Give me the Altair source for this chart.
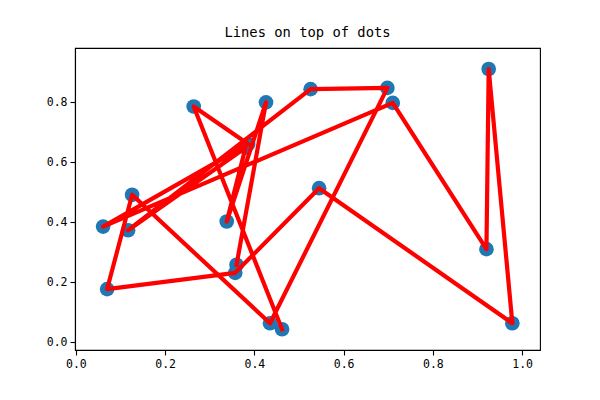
import altair as alt
import pandas as pd

# points in the order the red line visits them
xs = [0.462, 0.264, 0.386, 0.061, 0.710, 0.920, 0.925, 0.978, 0.545, 0.357,
      0.070, 0.126, 0.435, 0.698, 0.526, 0.117, 0.380, 0.338, 0.426, 0.360]
ys = [0.043, 0.785, 0.660, 0.385, 0.797, 0.310, 0.910, 0.063, 0.513, 0.231,
      0.177, 0.491, 0.063, 0.847, 0.843, 0.373, 0.648, 0.402, 0.799, 0.258]
x_ticks = [0.0, 0.2, 0.4, 0.6, 0.8, 1.0]
y_ticks = [0.0, 0.2, 0.4, 0.6, 0.8]

df = pd.DataFrame({"x": xs, "y": ys, "i": list(range(len(xs)))})

font = "DejaVu Sans Mono"

x_enc = alt.X("x:Q", scale=alt.Scale(domain=[-0.002, 1.040], nice=False, zero=False),
              axis=alt.Axis(values=x_ticks, format=".1f", title=None, grid=False))
y_enc = alt.Y("y:Q", scale=alt.Scale(domain=[-0.026, 0.980], nice=False, zero=False),
              axis=alt.Axis(values=y_ticks, format=".1f", title=None, grid=False))

dots = alt.Chart(df).mark_point(filled=True, shape="circle", size=215,
                                color="#1f77b4", opacity=1).encode(x=x_enc, y=y_enc)

line = alt.Chart(df).mark_line(color="red", strokeWidth=4.2, strokeJoin="round",
                               strokeCap="square").encode(
    x="x:Q", y="y:Q", order="i:Q")

chart = alt.layer(dots, line).properties(
    width=465, height=302,
    title=alt.TitleParams("Lines on top of dots", font=font, fontSize=13.8,
                          fontWeight="normal", color="black", offset=8),
    autosize=alt.AutoSizeParams(type="none"),
    padding={"left": 67, "top": 40, "right": 50, "bottom": 40},
).configure_view(stroke="black", strokeWidth=1.1).configure_axis(
    domainColor="black", domainWidth=1.1, tickColor="black", tickSize=5,
    tickWidth=1.1, labelFont=font, labelFontSize=11.5, labelColor="black",
    labelPadding=3, labelFlush=False,
)

chart.save("out.html", embed_options={"renderer": "svg", "actions": False})
